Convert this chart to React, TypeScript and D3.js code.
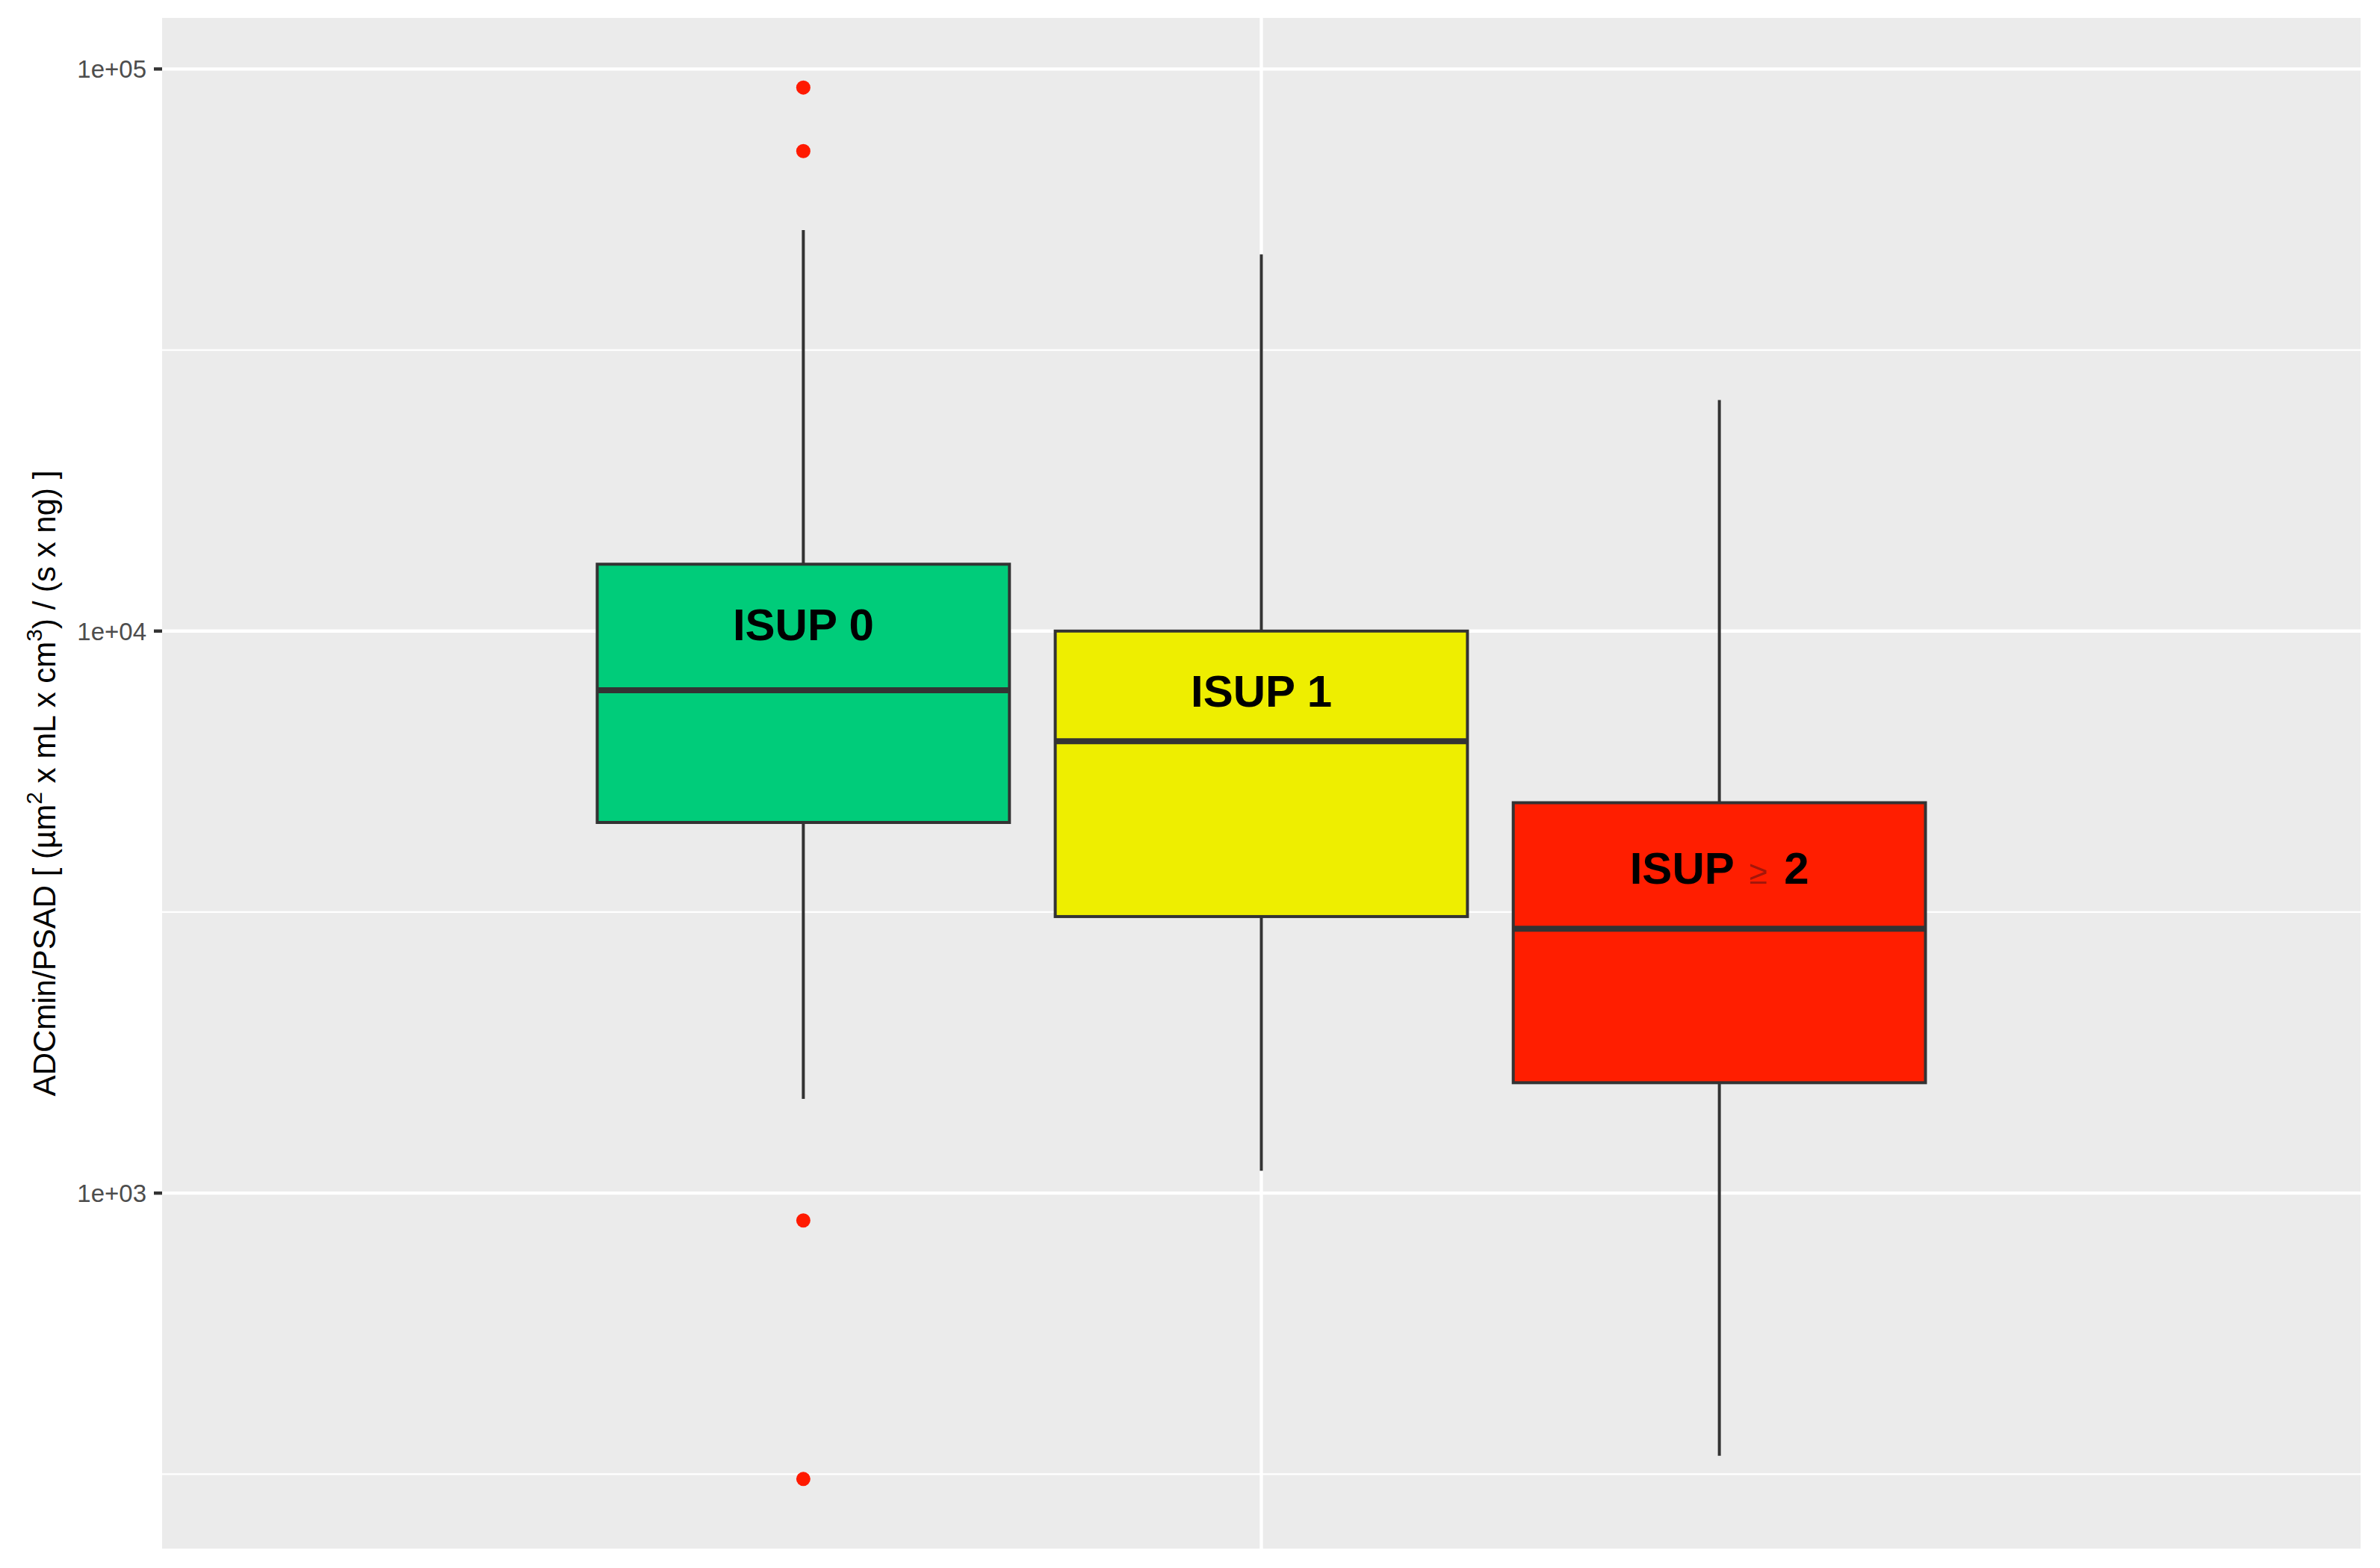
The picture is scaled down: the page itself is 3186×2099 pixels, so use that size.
import { useEffect, useRef } from 'react';
import * as d3 from 'd3';

// ---- data ----
const groups = ['ISUP 0', 'ISUP 1', 'ISUP ≥ 2'];
const fills = ['#00CC7A', '#EEEE00', '#FF1E00'];
const whiskerLow = [1471, 1096, 341];
const q1 = [4565, 3105, 1572];
const medians = [7845, 6370, 2953];
const q3 = [13150, 10000, 4950];
const whiskerHigh = [51700, 46800, 25760];
const outliers = [[92700, 71450, 894, 310], [], []];
const labelAt = [10300, 7835, 3793];

const yTicks = [1000, 10000, 100000];
const yTickLabels = ['1e+03', '1e+04', '1e+05'];
const yMinor = [316.23, 3162.3, 31623];

const W = 3186;
const H = 2099;

export default function App() {
    const svgRef = useRef<SVGSVGElement>(null);

    useEffect(() => {
        document.body.style.margin = '0';
        if (!svgRef.current) return;
        const svg = d3.select(svgRef.current);
        svg.selectAll('*').remove();

        const margin = { top: 24, right: 26, bottom: 26, left: 217 };
        const pw = W - margin.left - margin.right;
        const ph = H - margin.top - margin.bottom;

        // log y, ggplot-style 5% expansion
        const all = [...whiskerLow, ...whiskerHigh, ...outliers.flat()];
        const lo = Math.log10(d3.min(all)!);
        const hi = Math.log10(d3.max(all)!);
        const pad = (hi - lo) * 0.05;
        const y = d3
            .scaleLog()
            .domain([10 ** (lo - pad), 10 ** (hi + pad)])
            .range([ph, 0]);

        // single discrete x position, boxes dodged inside it
        const xOuter = d3.scalePoint().domain(['']).range([0, pw]).padding(0.5);
        const unit = pw / 1.2;
        const cx = xOuter('')!;
        const xBand = d3
            .scaleBand()
            .domain(groups)
            .range([cx - unit * 0.375, cx + unit * 0.375]);
        const bw = xBand.bandwidth() * 0.9;
        const mid = (g: string) => xBand(g)! + xBand.bandwidth() / 2;

        const g = svg
            .append('g')
            .attr('transform', `translate(${margin.left},${margin.top})`);

        // panel
        g.append('rect')
            .attr('width', pw)
            .attr('height', ph)
            .attr('fill', '#EBEBEB');

        g.selectAll('.minor')
            .data(yMinor)
            .join('line')
            .attr('x1', 0)
            .attr('x2', pw)
            .attr('y1', (d) => y(d))
            .attr('y2', (d) => y(d))
            .attr('stroke', '#fff')
            .attr('stroke-width', 2.2);

        g.selectAll('.major')
            .data(yTicks)
            .join('line')
            .attr('x1', 0)
            .attr('x2', pw)
            .attr('y1', (d) => y(d))
            .attr('y2', (d) => y(d))
            .attr('stroke', '#fff')
            .attr('stroke-width', 4.4);

        g.append('line')
            .attr('x1', cx)
            .attr('x2', cx)
            .attr('y1', 0)
            .attr('y2', ph)
            .attr('stroke', '#fff')
            .attr('stroke-width', 4.4);

        // y axis
        const axis = g.append('g');
        axis.selectAll('line')
            .data(yTicks)
            .join('line')
            .attr('x1', -11)
            .attr('x2', 0)
            .attr('y1', (d) => y(d))
            .attr('y2', (d) => y(d))
            .attr('stroke', '#333')
            .attr('stroke-width', 4.4);
        axis.selectAll('text')
            .data(yTicks)
            .join('text')
            .attr('x', -21)
            .attr('y', (d) => y(d))
            .attr('dy', '0.36em')
            .attr('text-anchor', 'end')
            .attr('font-family', '"Liberation Sans", Arial, sans-serif')
            .attr('font-size', 33)
            .attr('fill', '#4D4D4D')
            .text((_, i) => yTickLabels[i]);

        // whiskers
        groups.forEach((grp, i) => {
            const x = mid(grp);
            g.append('line')
                .attr('x1', x)
                .attr('x2', x)
                .attr('y1', y(q3[i]))
                .attr('y2', y(whiskerHigh[i]))
                .attr('stroke', '#333')
                .attr('stroke-width', 4);
            g.append('line')
                .attr('x1', x)
                .attr('x2', x)
                .attr('y1', y(q1[i]))
                .attr('y2', y(whiskerLow[i]))
                .attr('stroke', '#333')
                .attr('stroke-width', 4);
        });

        // boxes
        g.selectAll('.box')
            .data(groups)
            .join('rect')
            .attr('x', (d) => mid(d) - bw / 2)
            .attr('width', bw)
            .attr('y', (_, i) => y(q3[i]))
            .attr('height', (_, i) => y(q1[i]) - y(q3[i]))
            .attr('fill', (_, i) => fills[i])
            .attr('stroke', '#333')
            .attr('stroke-width', 4);

        g.selectAll('.median')
            .data(groups)
            .join('line')
            .attr('x1', (d) => mid(d) - bw / 2)
            .attr('x2', (d) => mid(d) + bw / 2)
            .attr('y1', (_, i) => y(medians[i]))
            .attr('y2', (_, i) => y(medians[i]))
            .attr('stroke', '#333')
            .attr('stroke-width', 8);

        // outliers
        groups.forEach((grp, i) => {
            g.selectAll(`.out${i}`)
                .data(outliers[i])
                .join('circle')
                .attr('cx', mid(grp))
                .attr('cy', (d) => y(d))
                .attr('r', 9.5)
                .attr('fill', '#FF1A00');
        });

        // group labels
        groups.forEach((grp, i) => {
            const t = g
                .append('text')
                .attr('x', mid(grp))
                .attr('y', y(labelAt[i]))
                .attr('dy', '0.36em')
                .attr('text-anchor', 'middle')
                .attr('font-family', '"Liberation Sans", Arial, sans-serif')
                .attr('font-weight', 'bold')
                .attr('font-size', 60)
                .attr('fill', '#000');
            if (grp.includes('≥')) {
                const [a, b] = grp.split('≥');
                t.append('tspan').text(a);
                t.append('tspan')
                    .attr('dx', 4)
                    .attr('font-size', 44)
                    .attr('font-weight', 'normal')
                    .attr('fill', '#A3160A')
                    .text('≥');
                t.append('tspan').attr('dx', 6).text(b);
            } else {
                t.text(grp);
            }
        });

        // y title
        const title = svg
            .append('text')
            .attr('transform', `translate(74,${margin.top + ph / 2}) rotate(-90)`)
            .attr('text-anchor', 'middle')
            .attr('font-family', '"Liberation Sans", Arial, sans-serif')
            .attr('font-size', 42)
            .attr('fill', '#000');
        const parts: [string, boolean][] = [
            ['ADCmin/PSAD [ (µm', false],
            ['2', true],
            [' x mL x cm', false],
            ['3', true],
            [') / (s x ng) ]', false],
        ];
        parts.forEach(([s, sup], k) => {
            const ts = title.append('tspan').text(s);
            if (sup) ts.attr('font-size', 30).attr('dy', -18);
            else if (k > 0) ts.attr('dy', 18);
        });
    }, []);

    return (
        <svg
            ref={svgRef}
            width={W}
            height={H}
            style={{ display: 'block', background: '#fff' }}
        />
    );
}
